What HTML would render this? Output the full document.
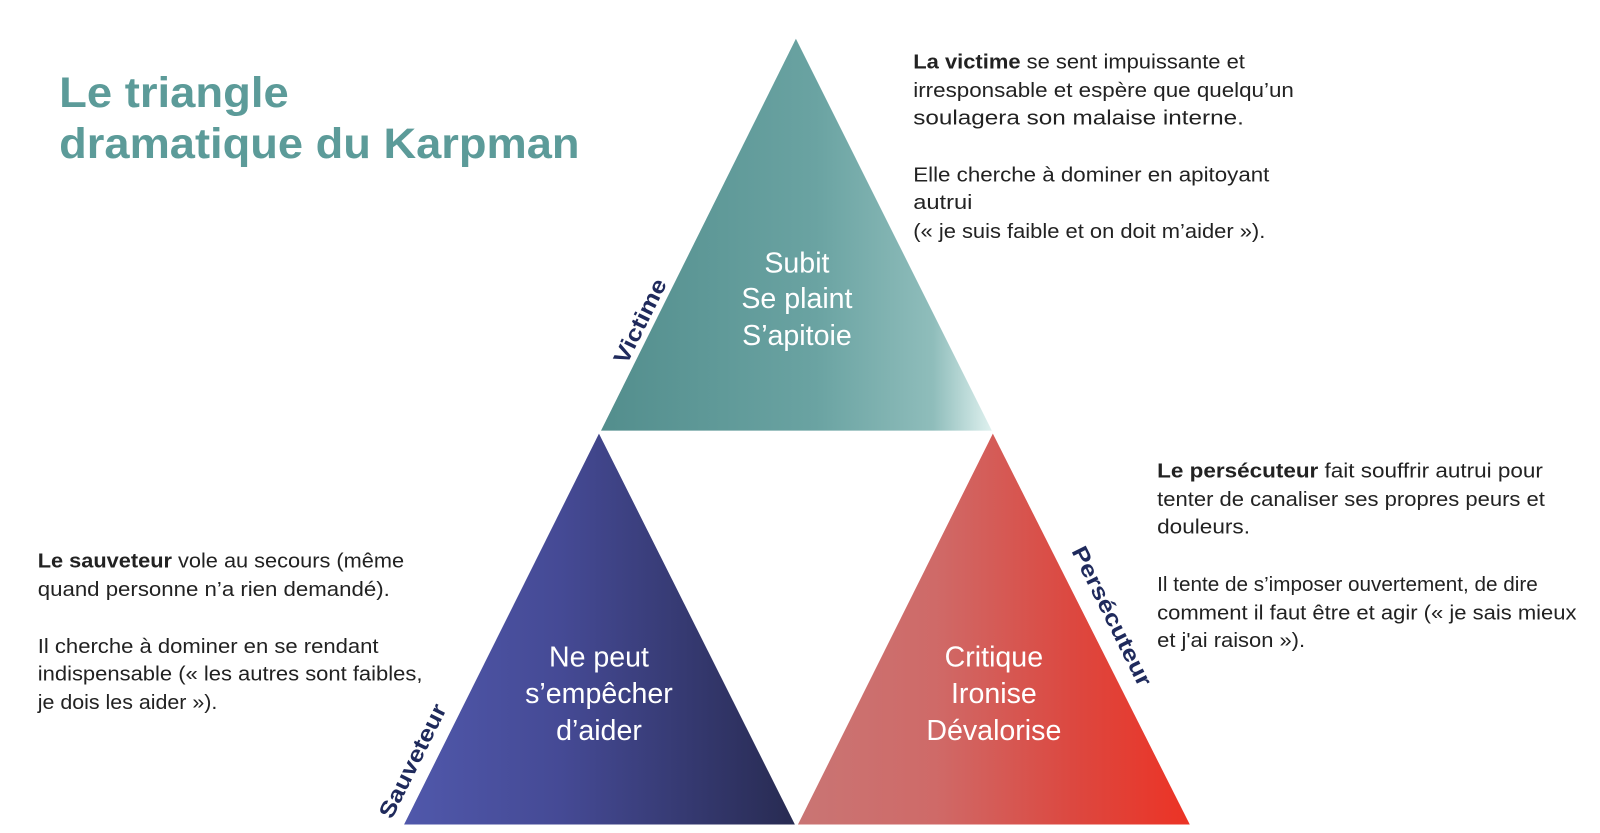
<!DOCTYPE html>
<html><head><meta charset="utf-8"><style>
html,body{margin:0;padding:0;background:#fff;}
svg{display:block;}
text{font-family:"Liberation Sans",sans-serif;}
</style></head><body>
<svg width="1600" height="833" viewBox="0 0 1600 833" xmlns="http://www.w3.org/2000/svg">
<defs>
<linearGradient id="gt" x1="589" x2="972" y1="0" y2="0" gradientUnits="userSpaceOnUse">
<stop offset="0" stop-color="#538e8d"/><stop offset="0.55" stop-color="#6aa3a2"/><stop offset="0.85" stop-color="#8fbdbb"/><stop offset="1" stop-color="#dff1ef"/></linearGradient>
<linearGradient id="gl" x1="396" x2="779" y1="0" y2="0" gradientUnits="userSpaceOnUse">
<stop offset="0" stop-color="#5058ab"/><stop offset="0.4" stop-color="#454a95"/><stop offset="1" stop-color="#282b52"/></linearGradient>
<linearGradient id="gr" x1="782" x2="1166" y1="0" y2="0" gradientUnits="userSpaceOnUse">
<stop offset="0" stop-color="#c97574"/><stop offset="0.35" stop-color="#cf6a68"/><stop offset="0.7" stop-color="#dc4840"/><stop offset="1" stop-color="#ec3325"/></linearGradient>
</defs>
<g transform="scale(1.0204)">
<polygon points="780,38 972,422 589,422" fill="url(#gt)"/>
<polygon points="587,425 779,808 396,808" fill="url(#gl)"/>
<polygon points="973,425 1166,808 782,808" fill="url(#gr)"/>

<g font-weight="bold" fill="#5c9b99" font-size="42">
<text x="58" y="105" textLength="225" lengthAdjust="spacingAndGlyphs">Le triangle</text>
<text x="58" y="155" textLength="510" lengthAdjust="spacingAndGlyphs">dramatique du Karpman</text>
</g>

<g fill="#fff" font-size="28" text-anchor="middle">
<text x="781" y="267">Subit</text>
<text x="781" y="302">Se plaint</text>
<text x="781" y="338">S’apitoie</text>
<text x="587" y="653">Ne peut</text>
<text x="587" y="689">s’empêcher</text>
<text x="587" y="725">d’aider</text>
<text x="974" y="653">Critique</text>
<text x="974" y="689">Ironise</text>
<text x="974" y="725">Dévalorise</text>
</g>

<g fill="#1f2a5c" font-weight="bold" font-size="22" text-anchor="middle">
<text transform="translate(634,318) rotate(-63.6)" textLength="90" lengthAdjust="spacingAndGlyphs">Victime</text>
<text transform="translate(411,749) rotate(-63.6)" textLength="122" lengthAdjust="spacingAndGlyphs">Sauveteur</text>
<text transform="translate(1083,607) rotate(63.6)" textLength="150" lengthAdjust="spacingAndGlyphs">Persécuteur</text>
</g>

<g fill="#222" font-size="20">
<text x="895" y="67" textLength="325" lengthAdjust="spacingAndGlyphs"><tspan font-weight="bold">La victime</tspan> se sent impuissante et</text>
<text x="895" y="95" textLength="373" lengthAdjust="spacingAndGlyphs">irresponsable et espère que quelqu’un</text>
<text x="895" y="122" textLength="324" lengthAdjust="spacingAndGlyphs">soulagera son malaise interne.</text>
<text x="895" y="178" textLength="349" lengthAdjust="spacingAndGlyphs">Elle cherche à dominer en apitoyant</text>
<text x="895" y="205" textLength="58" lengthAdjust="spacingAndGlyphs">autrui</text>
<text x="895" y="233" textLength="345" lengthAdjust="spacingAndGlyphs">(« je suis faible et on doit m’aider »).</text>

<text x="1134" y="468" textLength="378" lengthAdjust="spacingAndGlyphs"><tspan font-weight="bold">Le persécuteur</tspan> fait souffrir autrui pour</text>
<text x="1134" y="496" textLength="380" lengthAdjust="spacingAndGlyphs">tenter de canaliser ses propres peurs et</text>
<text x="1134" y="523" textLength="91" lengthAdjust="spacingAndGlyphs">douleurs.</text>
<text x="1134" y="579" textLength="373" lengthAdjust="spacingAndGlyphs">Il tente de s’imposer ouvertement, de dire</text>
<text x="1134" y="607" textLength="411" lengthAdjust="spacingAndGlyphs">comment il faut être et agir (« je sais mieux</text>
<text x="1134" y="634" textLength="145" lengthAdjust="spacingAndGlyphs">et j'ai raison »).</text>

<text x="37" y="556" textLength="359" lengthAdjust="spacingAndGlyphs"><tspan font-weight="bold">Le sauveteur</tspan> vole au secours (même</text>
<text x="37" y="584" textLength="345" lengthAdjust="spacingAndGlyphs">quand personne n’a rien demandé).</text>
<text x="37" y="640" textLength="334" lengthAdjust="spacingAndGlyphs">Il cherche à dominer en se rendant</text>
<text x="37" y="667" textLength="377" lengthAdjust="spacingAndGlyphs">indispensable (« les autres sont faibles,</text>
<text x="37" y="695" textLength="176" lengthAdjust="spacingAndGlyphs">je dois les aider »).</text>
</g>
</g>
</svg>
</body></html>
